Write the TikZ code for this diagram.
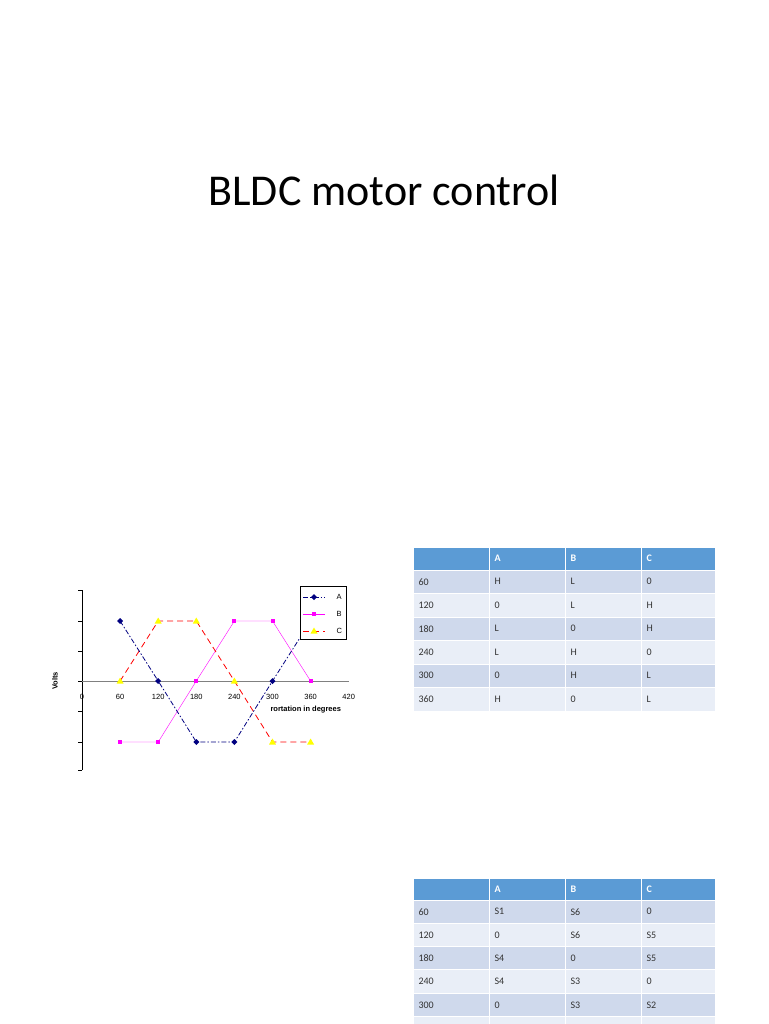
\documentclass[tikz,border=0pt]{standalone}
\usepackage{fontspec}
\setmainfont{Carlito}
\setsansfont{Liberation Sans}
\begin{document}
\begin{tikzpicture}[x=1pt,y=-1pt,
  hdr/.style={fill=hdrc,draw=white,line width=1pt},
  rowa/.style={fill=rowac,draw=white,line width=1pt},
  rowb/.style={fill=rowbc,draw=white,line width=1pt},
  cell/.style={anchor=west,font=\fontsize{10}{12}\selectfont,text=black!80},
  hcell/.style={anchor=west,font=\fontsize{10}{12}\selectfont\bfseries,text=white},
  lab/.style={font=\sffamily\fontsize{7.5}{9}\selectfont}]
\definecolor{hdrc}{HTML}{5B9BD5}
\definecolor{rowac}{HTML}{CFD9EC}
\definecolor{rowbc}{HTML}{E9EEF7}
\definecolor{navyc}{HTML}{000080}
\definecolor{magc}{HTML}{FF00FF}
\definecolor{yelc}{HTML}{FFFF00}
\useasboundingbox (0,0) rectangle (768,1024);
\node (title) at (384,190) {\fontsize{44}{50}\selectfont BLDC motor control};
% chart axes
\draw[black] (82,590) -- (82,770);
\foreach \yy in {590,621,651,681,711,742,770} \draw (78,\yy) -- (82,\yy);
\draw[gray] (82,681) -- (349,681);
\foreach \v [count=\i from 0] in {0,60,120,180,240,300,360,420}
  \node[lab] (xl\i) at (82+38.1*\i,697) {\v};
\node[lab,font=\sffamily\bfseries\fontsize{7.5}{9}\selectfont,anchor=west] (xt) at (267,710) {rortation in degrees};
\node[lab,font=\sffamily\bfseries\fontsize{7.5}{9}\selectfont,rotate=90] (yt) at (55,681) {Volts};
% series
\def\X#1{82+38.1*#1}
\draw[magc,thin] (\X1,742) -- (\X2,742) -- (\X3,681) -- (\X4,621) -- (\X5,621) -- (\X6,681);
\foreach \p/\q in {1/742,2/742,3/681,4/621,5/621,6/681} \fill[magc] ({\X\p-2},\q-2) rectangle ++(4,4);
\draw[red,thick,dash pattern=on 6pt off 4pt] (\X1,681) -- (\X2,621) -- (\X3,621) -- (\X4,681) -- (\X5,742) -- (\X6,742);
\foreach \p/\q in {1/681,2/621,3/621,4/681,5/742,6/742} \fill[yelc] ({\X\p},\q-3.5) -- ++(3.5,6) -- ++(-7,0) -- cycle;
\draw[navyc,thick,dash pattern=on 5pt off 2pt on 1.5pt off 2pt] (\X1,621) -- (\X2,681) -- (\X3,742) -- (\X4,742) -- (\X5,681) -- (\X6,621);
\foreach \p/\q in {1/621,2/681,3/742,4/742,5/681} \fill[navyc] ({\X\p},\q-3) -- ++(3,3) -- ++(-3,3) -- ++(-3,-3) -- cycle;
% legend
\draw[black,fill=white] (300,586) rectangle (346,639);
\draw[navyc,thick,dash pattern=on 5pt off 2pt on 1.5pt off 2pt] (303,597) -- (325,597);
\fill[navyc] (314,594) -- ++(3,3) -- ++(-3,3) -- ++(-3,-3) -- cycle;
\node[lab,anchor=west] (la) at (333,597) {A};
\draw[magc,thin] (303,614) -- (325,614); \fill[magc] (312,612) rectangle ++(4,4);
\node[lab,anchor=west] (lb) at (333,614) {B};
\draw[red,thick,dash pattern=on 6pt off 4pt] (303,631) -- (325,631);
\fill[yelc] (314,627.5) -- ++(3.5,6) -- ++(-7,0) -- cycle;
\node[lab,anchor=west] (lc) at (333,631) {C};
% table 1
\def\cx{{413,489,565,641,715}}
\fill[hdr] (413,547) rectangle (715,570);
\foreach \c in {0,1,2,3} \draw[white,line width=1pt] ({\cx[\c]},547) rectangle ({\cx[\c+1]},570);
\foreach \t [count=\i from 1] in {A,B,C} \node[hcell] (ta\i) at ({\cx[\i]+2},558) {\t};
\foreach \r/\a/\b/\cc [count=\i from 0] in {60/H/L/0,120/0/L/H,180/L/0/H,240/L/H/0,300/0/H/L,360/H/0/L}{
  \pgfmathsetmacro\yy{570+23.5*\i}
  \ifodd\i \def\st{rowb}\else\def\st{rowa}\fi
  \foreach \c in {0,1,2,3} \draw[\st] ({\cx[\c]},\yy) rectangle ({\cx[\c+1]},\yy+23.5);
  \node[cell] at (415,\yy+11.75) {\r};
  \node[cell] at (491,\yy+11.75) {\a};
  \node[cell] at (567,\yy+11.75) {\b};
  \node[cell] at (643,\yy+11.75) {\cc};
}
% table 2
\foreach \c in {0,1,2,3} \draw[hdr] ({\cx[\c]},878) rectangle ({\cx[\c+1]},900);
\foreach \t [count=\i from 1] in {A,B,C} \node[hcell] (tb\i) at ({\cx[\i]+2},889) {\t};
\foreach \r/\a/\b/\cc [count=\i from 0] in {60/S1/S6/0,120/0/S6/S5,180/S4/0/S5,240/S4/S3/0,300/0/S3/S2}{
  \pgfmathsetmacro\yy{900+23.3*\i}
  \ifodd\i \def\st{rowb}\else\def\st{rowa}\fi
  \foreach \c in {0,1,2,3} \draw[\st] ({\cx[\c]},\yy) rectangle ({\cx[\c+1]},\yy+23.3);
  \node[cell] at (415,\yy+11.65) {\r};
  \node[cell] at (491,\yy+11.65) {\a};
  \node[cell] at (567,\yy+11.65) {\b};
  \node[cell] at (643,\yy+11.65) {\cc};
}
\foreach \c in {0,1,2,3} \draw[rowb] ({\cx[\c]},1016.5) rectangle ({\cx[\c+1]},1030);
\end{tikzpicture}
\end{document}
